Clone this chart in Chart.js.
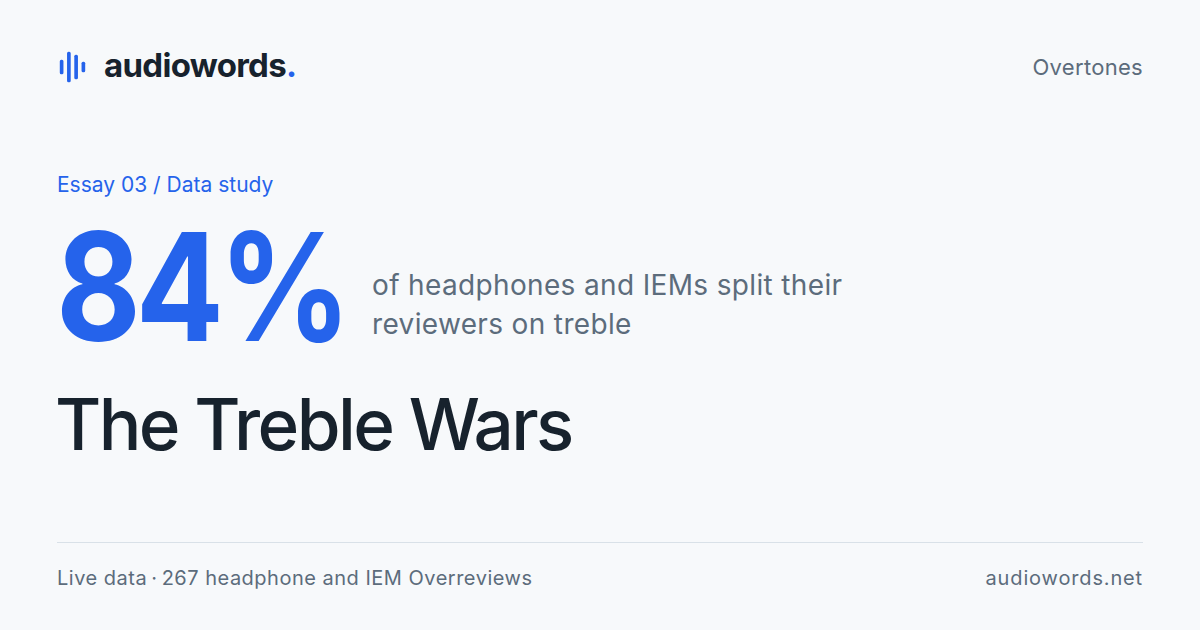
<!DOCTYPE html>
<html>
<head>
<meta charset="utf-8">
<script src="https://cdn.jsdelivr.net/npm/chart.js@4"></script>
<style>
  html, body { margin: 0; padding: 0; }
  body {
    width: 1200px; height: 630px; overflow: hidden;
    background: #f7f9fb;
    font-family: Inter, "Noto Sans", sans-serif;
    position: relative;
  }
  .abs { position: absolute; white-space: nowrap; }
  #logo { position: absolute; left: 58px; top: 51px; width: 29px; height: 32px; }
  .brand { left: 104px; top: 45px; font-size: 33px; font-weight: 700; color: #17222d; letter-spacing: -0.7px; }
  .brand span { color: #2563eb; }
  .section { right: 57px; top: 54px; font-size: 22px; color: #5c6c7c; letter-spacing: 0.3px; }
  .kicker { left: 57px; top: 172px; font-size: 21px; color: #2563eb; }
  .big {
    left: 56px; top: 212px; font-size: 150px; font-weight: 700; color: #2563eb;
    letter-spacing: -6px; line-height: 1; transform: scaleX(0.87); transform-origin: left top;
  }
  .sub { left: 372px; top: 266px; font-size: 28px; color: #5c6c7c; line-height: 39px; letter-spacing: 0.35px; }
  .title { left: 55px; top: 385px; font-size: 71px; font-weight: 500; color: #17222d; letter-spacing: -2.6px; line-height: 1.1; }
  .rule { position: absolute; left: 57px; width: 1086px; top: 542px; height: 1px; background: #d9e1e8; }
  .foot { top: 566px; font-size: 20px; color: #5c6c7c; }
  .foot.l { left: 57px; letter-spacing: 0.5px; }
  .foot.r { right: 57px; letter-spacing: 0.85px; }
</style>
</head>
<body>
<div id="logo"><canvas id="logo_chart"></canvas></div>
<div class="abs brand">audiowords<span>.</span></div>
<div class="abs section">Overtones</div>
<div class="abs kicker">Essay 03 / Data study</div>
<div class="abs big">84%</div>
<div class="abs sub">of headphones and IEMs split their<br>reviewers on treble</div>
<div class="abs title">The Treble Wars</div>
<div class="rule"></div>
<div class="abs foot l">Live data&#8201;·&#8201;267 headphone and IEM Overreviews</div>
<div class="abs foot r">audiowords.net</div>
<script>
// logo waveform bars, half-heights in px
const waveLabels = ["b1", "b2", "b3", "b4"];
const waveHalf = [7, 15, 12, 5];

const ctx = document.getElementById("logo_chart").getContext("2d");

new Chart(ctx, {
  type: "bar",
  data: {
    labels: waveLabels,
    datasets: [
      {
        data: waveHalf.map((h) => [-h, h]),
        backgroundColor: "#2563eb",
        borderRadius: 2,
        borderSkipped: false,
        barThickness: 3,
      },
    ],
  },
  options: {
    responsive: true,
    maintainAspectRatio: false,
    animation: false,
    layout: { padding: 0 },
    plugins: { legend: { display: false }, tooltip: { enabled: false } },
    scales: {
      x: { display: false, offset: true },
      y: { display: false, min: -16, max: 16 },
    },
  },
});
</script>
</body>
</html>
